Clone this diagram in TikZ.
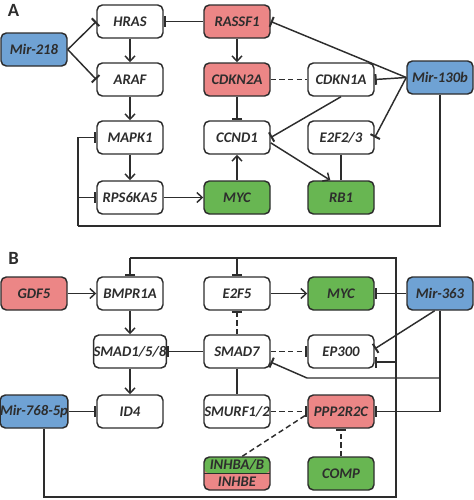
\documentclass[tikz,border=0pt]{standalone}
\usepackage{fontspec}
\setsansfont{Carlito}
\usetikzlibrary{arrows.meta,calc}

\definecolor{mirblue}{RGB}{111,162,212}
\definecolor{genered}{RGB}{236,134,134}
\definecolor{genegreen}{RGB}{104,182,82}
\definecolor{inkgray}{RGB}{45,45,45}

\tikzset{
  gene/.style={draw, rounded corners=4pt, fill=white, minimum width=49.5pt,
    minimum height=24.75pt, inner sep=0pt, font=\sffamily\bfseries\itshape\fontsize{11}{13}\selectfont},
  mir/.style={gene, fill=mirblue},
  upreg/.style={gene, fill=genered},
  downreg/.style={gene, fill=genegreen},
  genetext/.style={inner sep=0pt, font=\sffamily\bfseries\itshape\fontsize{11}{13}\selectfont},
  panel/.style={font=\sffamily\bfseries\fontsize{14}{16}\selectfont},
  act/.style={-{Straight Barb[length=4pt,width=7.5pt]}},
  inh/.style={-{Bar[width=8pt,line width=1.5pt]}},
  dashline/.style={dash pattern=on 4pt off 2.5pt},
}

\begin{document}
\begin{tikzpicture}[x=0.75pt, y=-0.75pt, line width=1.1pt, color=inkgray]
    \useasboundingbox (0,0) rectangle (474,500);

    % panel A
    \node[panel] (labA) at (13.5,10) {A};
    \node[gene]    (hras)  at (130,21.5)  {HRAS};
    \node[upreg]   (rassf) at (237,21.5)  {RASSF1};
    \node[mir]     (mirA)  at (34,49.5)   {Mir-218};
    \node[gene]    (araf)  at (130,79.5)  {ARAF};
    \node[upreg]   (cdknA) at (237,79.5)  {CDKN2A};
    \node[gene]    (cdknB) at (341,79.5)  {CDKN1A};
    \node[mir]     (mirB)  at (440,77.5)  {Mir-130b};
    \node[gene]    (mapk)  at (130,137.5) {MAPK1};
    \node[gene]    (ccnd)  at (237,137.5) {CCND1};
    \node[gene]    (e2f)   at (341,137.5) {E2F2/3};
    \node[gene]    (rps)   at (130,197.5) {RPS6KA5};
    \node[downreg] (mycA)  at (237,197.5) {MYC};
    \node[downreg] (rb)    at (341,197.5) {RB1};
    \coordinate (loopA) at (78,226);

    \draw[inh] (mirA.east) -- (hras.west);
    \draw[inh] (mirA.east) -- (araf.west);
    \draw[inh] (rassf) -- (hras);
    \draw[act] (hras) -- (araf);
    \draw[act] (araf) -- (mapk);
    \draw[act] (mapk) -- (rps);
    \draw[act] (rps) -- (mycA);
    \draw[act] (rassf) -- (cdknA);
    \draw[dashline] (cdknA) -- (cdknB);
    \draw[inh] (cdknA) -- (ccnd);
    \draw[act] (mycA) -- (ccnd);
    \draw[inh] (cdknB.south) -- (ccnd.east);
    \draw[act] ([yshift=-4pt]ccnd.east) -- ([xshift=-8pt]rb.north);
    \draw (e2f) -- (rb);
    \draw[inh] (mirB.west) -- (rassf.east);
    \draw[inh] (mirB.west) -- (cdknB.east);
    \draw[inh] (mirB.west) -- (e2f.east);
    \draw (mirB.south) |- (loopA);
    \draw[inh] (loopA) |- (mapk.west);
    \draw[inh] (loopA |- rps.west) -- (rps.west);

    % panel B
    \node[panel] (labB) at (13.5,258.5) {B};
    \node[upreg]   (gdf)   at (34,293.5)  {GDF5};
    \node[gene]    (bmpr)  at (130,293.5) {BMPR1A};
    \node[gene]    (efive) at (237,293.5) {E2F5};
    \node[downreg] (mycB)  at (341,293.5) {MYC};
    \node[mir]     (mirD)  at (440,293.5) {Mir-363};
    \node[gene]    (smadA) at (130,351.5) {SMAD1/5/8};
    \node[gene]    (smadS) at (237,351.5) {SMAD7};
    \node[gene]    (ep)    at (341,351.5) {EP300};
    \node[mir]     (mirC)  at (34,411.5)  {Mir-768-5p};
    \node[gene]    (idf)   at (130,411.5) {ID4};
    \node[gene]    (smurf) at (237,411.5) {SMURF1/2};
    \node[upreg]   (ppp)   at (341,411.5) {PPP2R2C};
    \node[gene, fill=genered, path picture={
        \fill[genegreen] (path picture bounding box.north west) rectangle (path picture bounding box.east);
        \draw[line width=0.8pt] (path picture bounding box.west) -- (path picture bounding box.east);}]
        (inhb) at (237,473.5) {};
    \node[genetext] (inhbT) at ($(inhb.center)!0.5!(inhb.north)$) {INHBA/B};
    \node[genetext] (inhbB) at ($(inhb.center)!0.5!(inhb.south)$) {INHBE};
    \node[downreg] (comp)  at (341,473.5) {COMP};
    \coordinate (loopB) at (44,497);
    \coordinate (cornerB) at (396,258);
    \coordinate (kink) at (307,378);
    \coordinate (epLow) at ([yshift=-8pt]ep.east);
    \coordinate (smLow) at ([yshift=-8pt]smadS.east);

    \draw[act] (gdf) -- (bmpr);
    \draw[act] (bmpr) -- (smadA);
    \draw[act] (smadA) -- (idf);
    \draw[act] (efive) -- (mycB);
    \draw[inh] (mirD) -- (mycB);
    \draw[inh] (mirC) -- (idf);
    \draw[inh] (smadS) -- (smadA);
    \draw[inh, dashline] (smadS) -- (efive);
    \draw[inh, dashline] (smadS) -- (ep);
    \draw (smadS) -- (smurf);
    \draw[inh, dashline] (smurf) -- (ppp);
    \draw[dashline] ([xshift=4pt]inhb.north) -- ([yshift=-2pt]ppp.west);
    \draw[inh, dashline] (comp) -- (ppp);
    \draw[inh] ([xshift=-4pt]mirD.south) -- ([yshift=2pt]ep.east);
    \draw[inh] (mirD.south) |- (ppp.east);
    \draw[inh] (mirD.south |- kink) -- (kink) -- (smLow);
    \draw (loopB |- mirC.south) -- (loopB) -| (cornerB) -- (cornerB -| bmpr.north);
    \draw[inh] (cornerB -| bmpr.north) -- (bmpr.north);
    \draw[inh] (cornerB -| efive.north) -- (efive.north);
    \draw[inh] (epLow -| cornerB) -- (epLow);
\end{tikzpicture}
\end{document}
